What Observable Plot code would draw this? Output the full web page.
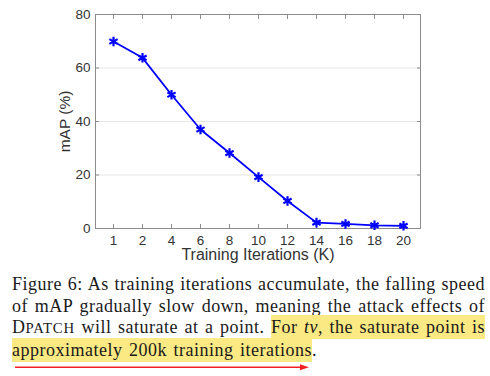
<!DOCTYPE html>
<html>
<head>
<meta charset="utf-8">
<script src="https://cdn.jsdelivr.net/npm/d3@7"></script>
<script src="https://cdn.jsdelivr.net/npm/@observablehq/plot@0.6"></script>
<style>
  html, body { margin: 0; padding: 0; background: #fff; width: 490px; height: 376px; overflow: hidden; }
  #chart { position: absolute; left: 0; top: 0; }
  #caption {
    position: absolute; left: 12px; top: 274px; width: 473px;
    font-family: "Liberation Serif", "Times New Roman", serif;
    font-size: 18px; line-height: 21.7px; color: #1a1a1a; letter-spacing: 0.5px;
  }
  #caption .ln { white-space: nowrap; text-align: justify; text-align-last: justify; width: 473px; }
  #caption .ln.last { text-align-last: left; word-spacing: 1.5px; }
  .sc { font-size: 0.82em; letter-spacing: 0.8px; }
  .hl { background: #fbe983; padding: 2px 0 2px 0; }
  .it { font-style: italic; }
  #arrow { position: absolute; left: 0; top: 0; }
</style>
</head>
<body>
<div id="chart"></div>
<div id="caption">
  <div class="ln">Figure 6: As training iterations accumulate, the falling speed</div>
  <div class="ln">of mAP gradually slow down, meaning the attack effects of</div>
  <div class="ln">D<span class="sc">PATCH</span> will saturate at a point. <span class="hl">For <span class="it">tv</span>, the saturate point is</span></div>
  <div class="ln last"><span class="hl">approximately 200k training iterations</span>.</div>
</div>
<svg id="arrow" width="490" height="376">
  <line x1="15" y1="367.3" x2="302" y2="367.3" stroke="#f02020" stroke-width="1.6"/>
  <path d="M309,367.3 L300,364.3 L300,370.3 Z" fill="#f02020"/>
</svg>
<script>
const iterations = ["1", "2", "4", "6", "8", "10", "12", "14", "16", "18", "20"];
const mAP = [69.9, 63.8, 50.0, 37.0, 28.2, 19.2, 10.3, 2.2, 1.7, 1.2, 1.0];
const yTicks = [0, 20, 40, 60, 80];
const gridTicks = [20, 40, 60];
const yLabel = "mAP (%)";
const xLabel = "Training Iterations (K)";

const data = iterations.map((k, i) => ({k, v: mAP[i]}));

const chart = Plot.plot({
  width: 490,
  height: 265,
  marginLeft: 95,
  marginRight: 70,
  marginTop: 14,
  marginBottom: 37,
  style: {fontFamily: "'Liberation Sans', Arial, sans-serif", fontSize: "13.5px", color: "#333", background: "transparent"},
  x: {type: "point", domain: iterations, padding: 0.5},
  y: {domain: [0, 80]},
  marks: [
    Plot.gridY(gridTicks, {stroke: "#e6e6e6", strokeOpacity: 1}),
    Plot.frame({stroke: "#8c8c8c"}),
    Plot.axisY(yTicks, {anchor: "left", tickSize: 0, tickPadding: 5, label: null, fill: "#333"}),
    Plot.axisY(yTicks, {anchor: "left", tickSize: -4, text: null, label: null, stroke: "#8c8c8c"}),
    Plot.axisY(yTicks, {anchor: "right", tickSize: -4, text: null, label: null, stroke: "#8c8c8c"}),
    Plot.axisX(iterations, {anchor: "bottom", tickSize: 0, tickPadding: 7, label: null, fill: "#333"}),
    Plot.axisX(iterations, {anchor: "bottom", tickSize: -4, text: null, label: null, stroke: "#8c8c8c"}),
    Plot.axisX(iterations, {anchor: "top", tickSize: -4, text: null, label: null, stroke: "#8c8c8c"}),
    Plot.text([yLabel], {frameAnchor: "left", dx: -30, rotate: -90, textAnchor: "middle", lineAnchor: "middle", fontSize: 15.5, fill: "#333"}),
    Plot.text([xLabel], {frameAnchor: "bottom", dy: 26, textAnchor: "middle", lineAnchor: "middle", fontSize: 16, fill: "#333"}),
    Plot.line(data, {x: "k", y: "v", stroke: "#0000ff", strokeWidth: 1.8}),
    Plot.dot(data, {x: "k", y: "v", symbol: "asterisk", stroke: "#0000ff", strokeWidth: 2.2, r: 4.5})
  ]
});
document.getElementById("chart").appendChild(chart);
</script>
</body>
</html>
